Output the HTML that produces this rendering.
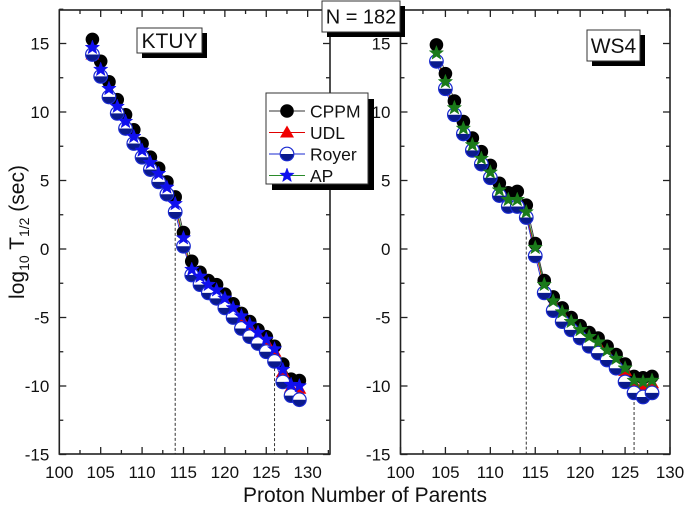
<!DOCTYPE html>
<html><head><meta charset="utf-8">
<style>
html,body{margin:0;padding:0;background:#fff;}
svg{display:block;font-family:"Liberation Sans",Arial,sans-serif;}
</style></head>
<body>
<svg id="chart" width="685" height="510" viewBox="0 0 685 510" xmlns="http://www.w3.org/2000/svg">
</svg>
<script>
const zLeft = [104,105,106,107,108,109,110,111,112,113,114,115,116,117,118,119,120,121,122,123,124,125,126,127,128,129];
const ktuyCPPM = [15.3,13.7,12.2,10.9,9.8,8.7,7.7,6.7,5.9,4.9,3.8,1.2,-0.9,-1.7,-2.3,-2.6,-3.3,-4.0,-4.7,-5.3,-5.9,-6.4,-7.1,-8.4,-9.5,-9.6];
const ktuyUDL = [14.2,12.9,11.5,10.2,9.1,8.0,7.0,6.1,5.3,4.3,3.1,0.6,-1.7,-2.2,-2.8,-3.2,-3.8,-4.5,-5.1,-5.7,-6.3,-6.8,-7.5,-9.0,-10.1,-10.2];
const ktuyRoyer = [14.2,12.6,11.1,9.9,8.8,7.7,6.7,5.8,4.9,4.0,2.7,0.2,-1.9,-2.6,-3.2,-3.6,-4.3,-5.0,-5.8,-6.4,-6.9,-7.5,-8.2,-9.7,-10.7,-11.0];
const ktuyAP = [14.7,13.1,11.7,10.4,9.3,8.2,7.2,6.3,5.5,4.5,3.3,0.8,-1.5,-2.0,-2.6,-3.0,-3.6,-4.3,-4.9,-5.5,-6.1,-6.6,-7.3,-8.8,-9.9,-10.0];
const zRight = [104,105,106,107,108,109,110,111,112,113,114,115,116,117,118,119,120,121,122,123,124,125,126,127,128];
const ws4CPPM = [14.9,12.8,10.8,9.3,8.1,7.1,6.1,4.8,4.1,4.2,3.2,0.4,-2.3,-3.5,-4.3,-5.0,-5.6,-6.1,-6.5,-7.1,-7.7,-8.4,-9.3,-9.4,-9.3];
const ws4UDL = [14.1,12.0,10.1,8.6,7.4,6.4,5.4,4.1,3.5,3.5,2.5,-0.1,-2.8,-4.0,-4.8,-5.5,-6.1,-6.6,-7.0,-7.6,-8.2,-8.9,-9.8,-10.0,-9.8];
const ws4Royer = [13.7,11.7,9.8,8.4,7.2,6.2,5.2,3.9,3.1,3.1,2.3,-0.5,-3.2,-4.5,-5.3,-5.9,-6.5,-7.1,-7.6,-8.1,-8.7,-9.7,-10.5,-10.8,-10.5];
const ws4AP = [14.3,12.2,10.3,8.8,7.6,6.6,5.6,4.3,3.6,3.6,2.7,0.1,-2.6,-3.8,-4.6,-5.3,-5.9,-6.4,-6.8,-7.4,-8.0,-8.7,-9.6,-9.7,-9.6];
const xTicks = [100,105,110,115,120,125,130];
const yTicks = [15,10,5,0,-5,-10,-15];

const NS = "http://www.w3.org/2000/svg";
const svg = document.getElementById('chart');
function mk(tag, attrs, parent){
  const e = document.createElementNS(NS, tag);
  for (const k in attrs) e.setAttribute(k, attrs[k]);
  (parent||svg).appendChild(e);
  return e;
}
const Y0 = 249, YS = 13.7;
const yPx = v => Y0 - YS*v;
const TOP = 10, BOT = 454;

function star(cx, cy, r, fill, parent){
  let pts = [];
  for (let i=0;i<10;i++){
    const a = -Math.PI/2 + i*Math.PI/5;
    const rr = i%2===0 ? r : r*0.42;
    pts.push((cx+rr*Math.cos(a)).toFixed(2)+','+(cy+rr*Math.sin(a)).toFixed(2));
  }
  return mk('polygon',{points:pts.join(' '),fill:fill,stroke:fill,'stroke-width':0.5},parent);
}
function royer(cx, cy, parent){
  const g = mk('g',{},parent);
  mk('circle',{cx:cx,cy:cy,r:6.8,fill:'#fff'},g);
  mk('path',{d:`M${cx-6.8},${cy} A6.8,6.8 0 0 0 ${cx+6.8},${cy} Z`,fill:'#0a1a8c'},g);
  mk('circle',{cx:cx,cy:cy,r:6.8,fill:'none',stroke:'#1a2ad0','stroke-width':1.2},g);
  return g;
}
function tri(cx, cy, fill, parent){
  return mk('polygon',{points:`${cx},${cy-7} ${cx-7},${cy+5} ${cx+7},${cy+5}`,fill:fill},parent);
}

function panel(name, L, R, xMax, zs, cppm, udl, roy, ap, apColor, dashTop){
  const xPx = z => L + (z-100)*(R-L)/(xMax-100);
  const g = mk('g',{});
  
  
  for (let v=100; v<=xMax+0.01; v+=2.5){
    const major = Math.abs(v%5)<0.01;
    const x = xPx(v), len = major?7:4;
    mk('line',{x1:x,y1:BOT,x2:x,y2:BOT-len,stroke:'#222','stroke-width':1.3},g);
    mk('line',{x1:x,y1:TOP,x2:x,y2:TOP+len,stroke:'#222','stroke-width':1.3},g);
  }
  for (let v=-15; v<=17.5; v+=2.5){
    const major = Math.abs(v%5)<0.01;
    const y = yPx(v), len = major?7:4;
    mk('line',{x1:L,y1:y,x2:L+len,y2:y,stroke:'#222','stroke-width':1.3},g);
    mk('line',{x1:R,y1:y,x2:R-len,y2:y,stroke:'#222','stroke-width':1.3},g);
  }
  xTicks.forEach(v=>{
    const t = mk('text',{x:xPx(v),y:BOT+24,'text-anchor':'middle','font-size':17,fill:'#111'},g);
    t.textContent = v;
    
    
  });
  yTicks.forEach(v=>{
    const t = mk('text',{x:L-10,y:yPx(v)+6,'text-anchor':'end','font-size':17,fill:'#111'},g);
    t.textContent = v;
    
    
  });
  [[114,dashTop[0]],[126,dashTop[1]]].forEach(d=>{
    const dl = mk('line',{x1:xPx(d[0]),y1:yPx(d[1]),x2:xPx(d[0]),y2:BOT,stroke:'#333','stroke-width':1,'stroke-dasharray':'3,2'},g);
    
    
  });
  const series = [[cppm,'#333'],[udl,'#e00000'],[roy,'#1a2ad0'],[ap,'#2a8a2a']];
  series.forEach(s=>{
    const pts = zs.map((z,i)=>xPx(z).toFixed(1)+','+yPx(s[0][i]).toFixed(1)).join(' ');
    const pl = mk('polyline',{points:pts,fill:'none',stroke:s[1],'stroke-width':0.9},g);
    
    
  });
  zs.forEach((z,i)=>{
    const c = mk('circle',{cx:xPx(z),cy:yPx(cppm[i]),r:6.8,fill:'#000'},g);
    
    
  });
  zs.forEach((z,i)=>{
    const t = tri(xPx(z),yPx(udl[i]),'#f00000',g);
    
    
  });
  zs.forEach((z,i)=>{
    const r = royer(xPx(z),yPx(roy[i]),g);
    
    
  });
  zs.forEach((z,i)=>{
    const s = star(xPx(z),yPx(ap[i]),7.5,apColor,g);
    
    
  });
  mk('rect',{x:L,y:TOP,width:R-L,height:BOT-TOP,fill:'none',stroke:'#222','stroke-width':1.6},g);
  return g;
}

panel('ktuy', 59.3, 330, 132.7, zLeft, ktuyCPPM, ktuyUDL, ktuyRoyer, ktuyAP, '#1010ee', [3.0,-7.6]);
panel('ws4', 400.5, 670, 130, zRight, ws4CPPM, ws4UDL, ws4Royer, ws4AP, '#1a7a1a', [2.0,-10.8]);

function box(x,y,w,h,txt,fs,name,sh){
  const g = mk('g',{});
  
  
  mk('rect',{x:x+sh,y:y+sh,width:w,height:h,fill:'#000'},g);
  mk('rect',{x:x,y:y,width:w,height:h,fill:'#fff',stroke:'#333','stroke-width':1},g);
  if (txt){
    const t = mk('text',{x:x+w/2,y:y+h/2+fs*0.36,'text-anchor':'middle','font-size':fs,fill:'#111'},g);
    t.textContent = txt;
  }
  return g;
}
box(137,28,65,25,'KTUY',21,'ktuy-label',5);
box(587,30,53,31,'WS4',21,'ws4-label',5);
box(322,1,78,31,'N = 182',20,'neutron-number-label',5);

const lg = box(266,93,102,91,'',15,'legend',6);
const names = ['CPPM','UDL','Royer','AP'];
const lcol = ['#333','#e00000','#1a2ad0','#2a8a2a'];
names.forEach((n,i)=>{
  const y = 111 + i*21.5;
  const e = mk('g',{},lg);
  
  
  mk('line',{x1:269,y1:y,x2:305,y2:y,stroke:lcol[i],'stroke-width':1},e);
  if (i===0) mk('circle',{cx:287,cy:y,r:6.8,fill:'#000'},e);
  if (i===1) tri(287,y,'#f00000',e);
  if (i===2) royer(287,y,e);
  if (i===3) star(287,y,7.5,'#1010ee',e);
  const t = mk('text',{x:310,y:y+6.5,'font-size':17.5,fill:'#111'},e);
  t.textContent = n;
});

const xt = mk('text',{x:365,y:502,'text-anchor':'middle','font-size':21,fill:'#111'});
xt.textContent = 'Proton Number of Parents';


const yt = mk('text',{transform:'translate(24,232) rotate(-90)','text-anchor':'middle','font-size':21,fill:'#111'});


yt.innerHTML = 'log<tspan font-size="14" dy="5">10</tspan><tspan dy="-5"> T</tspan><tspan font-size="14" dy="5">1/2</tspan><tspan dy="-5"> (sec)</tspan>';
</script>
</body></html>
